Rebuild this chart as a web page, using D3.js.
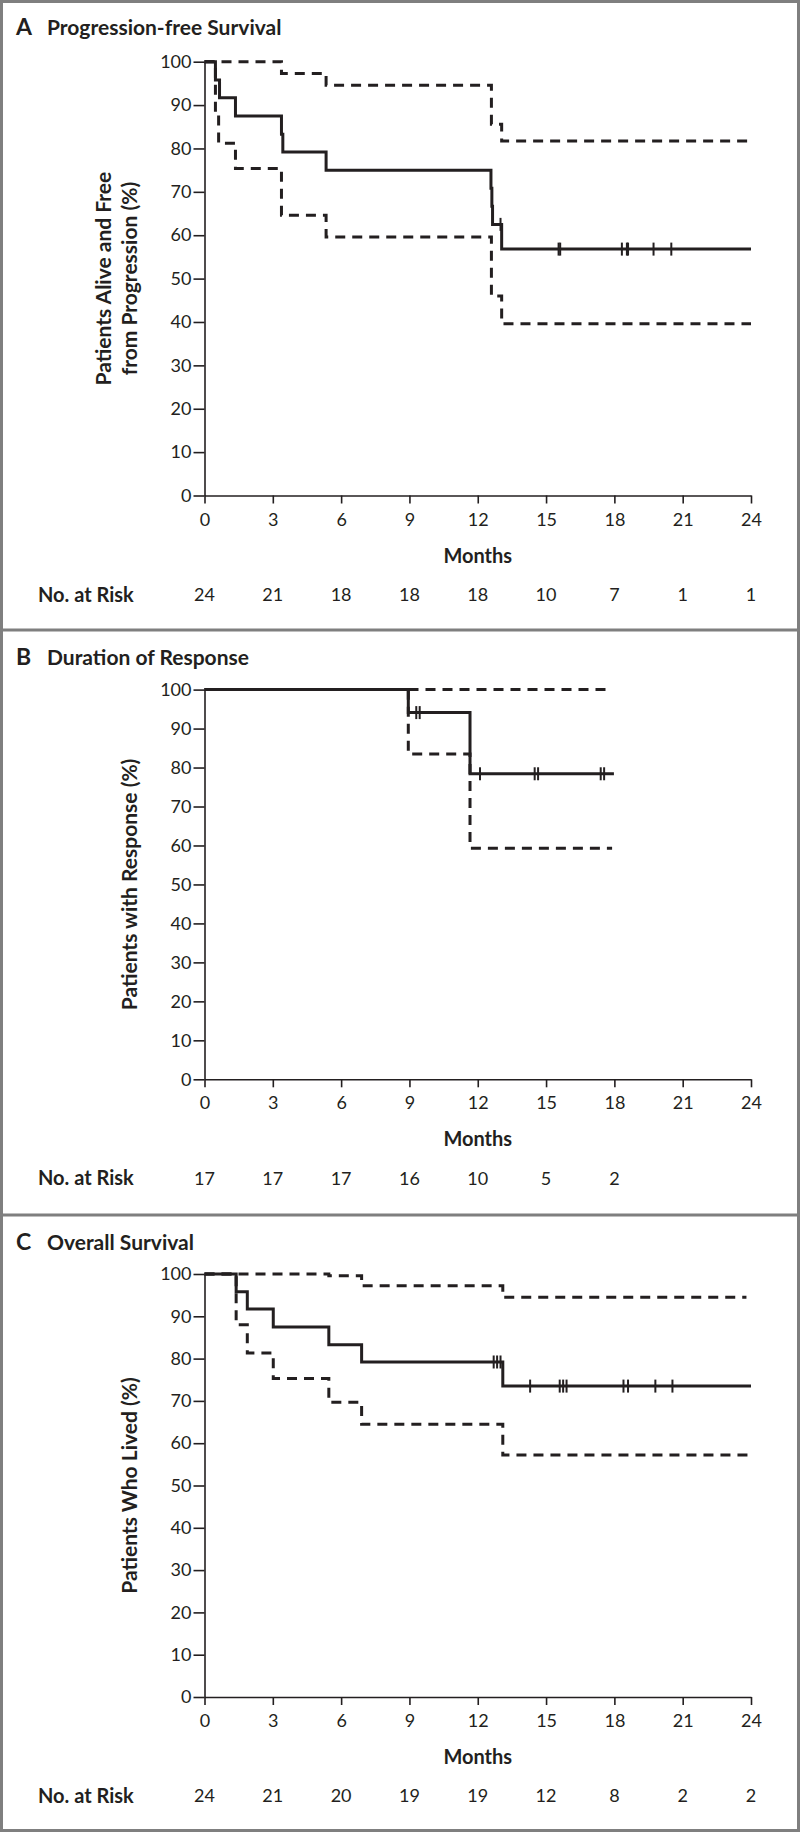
<!DOCTYPE html>
<html>
<head>
<meta charset="utf-8">
<script src="https://cdn.jsdelivr.net/npm/d3@7"></script>
<style>
    body { margin: 0; background: #fff; }
    svg text { font-family: Lato, 'Open Sans', sans-serif; fill: #231f20; }
</style>
</head>
<body>
<div id="chart"></div>
<script>
'use strict';

// ---- data ----
const months = [0, 3, 6, 9, 12, 15, 18, 21, 24];
const pctTicks = [0, 10, 20, 30, 40, 50, 60, 70, 80, 90, 100];

// A: progression-free survival
const pfsTime = [0, 0.48, 0.66, 1.36, 3.38, 3.44, 5.34, 12.58, 12.62, 12.65, 13.05, 24];
const pfsEst = [100, 95.8, 91.7, 87.5, 83.3, 79.2, 75.0, 70.8, 66.7, 62.5, 56.8, 56.8];
const pfsUpperTime = [0, 3.38, 5.34, 12.6, 13.05, 24];
const pfsUpper = [100, 97.3, 94.6, 85.6, 81.7, 81.7];
const pfsLowerTime = [0, 0.48, 0.62, 1.36, 3.38, 5.34, 12.6, 13.05, 24];
const pfsLower = [100, 88.0, 81.2, 75.4, 64.6, 59.6, 46.0, 39.6, 39.6];
const pfsCensor = [13.0, 15.55, 15.62, 18.33, 18.55, 18.6, 19.72, 20.5];
const pfsAtRisk = [24, 21, 18, 18, 18, 10, 7, 1, 1];

// B: duration of response
const dorTime = [0, 8.95, 11.66, 17.98];
const dorEst = [100, 94.1, 78.4, 78.4];
const dorUpperTime = [0, 17.9];
const dorUpper = [100, 100];
const dorLowerTime = [0, 8.95, 11.66, 17.9];
const dorLower = [100, 83.5, 59.3, 59.3];
const dorCensor = [9.3, 9.45, 12.1, 14.5, 14.65, 17.4, 17.55];
const dorAtRisk = [17, 17, 17, 16, 10, 5, 2];

// C: overall survival
const osTime = [0, 1.39, 1.88, 3.02, 5.46, 6.9, 13.1, 24];
const osEst = [100, 95.8, 91.7, 87.5, 83.3, 79.2, 73.5, 73.5];
const osUpperTime = [0, 5.46, 6.9, 13.1, 23.8];
const osUpper = [100, 99.6, 97.2, 94.5, 94.5];
const osLowerTime = [0, 1.39, 1.88, 3.02, 5.46, 6.9, 13.1, 24];
const osLower = [100, 88.0, 81.3, 75.3, 69.7, 64.5, 57.2, 57.2];
const osCensor = [12.7, 12.85, 13.0, 14.3, 15.6, 15.75, 15.9, 18.4, 18.6, 19.8, 20.55];
const osAtRisk = [24, 21, 20, 19, 19, 12, 8, 2, 2];

(function(doc) {

    const W = 800, H = 1832;
    const ink = '#231f20';
    const frame = '#7f7f7f';

    const svg = d3.select('#chart').append('svg')
        .attr('width', W)
        .attr('height', H);

    const x = d3.scaleLinear().domain([0, 24]).range([204.5, 751]);

    const zip = (ts, vs) => ts.map((t, i) => ({t: t, v: vs[i]}));

    // value of a step curve at time t (events at t count)
    const stepValue = (ts, vs, t) => {
        let v = vs[0];
        for (let i = 0; i < ts.length; i++) {
            if (ts[i] <= t) v = vs[i];
        }
        return v;
    };

    const panels = [
        {
            letter: 'A', title: 'Progression-free Survival', top: 0, bottom: 630,
            plotTop: 61.7, plotBottom: 495.5,
            ylabel: ['Patients Alive and Free', 'from Progression (%)'],
            est: [pfsTime, pfsEst], upper: [pfsUpperTime, pfsUpper], lower: [pfsLowerTime, pfsLower],
            censor: pfsCensor, atRisk: pfsAtRisk
        },
        {
            letter: 'B', title: 'Duration of Response', top: 630, bottom: 1215,
            plotTop: 689.6, plotBottom: 1079.3,
            ylabel: ['Patients with Response (%)'],
            est: [dorTime, dorEst], upper: [dorUpperTime, dorUpper], lower: [dorLowerTime, dorLower],
            censor: dorCensor, atRisk: dorAtRisk
        },
        {
            letter: 'C', title: 'Overall Survival', top: 1215, bottom: 1832,
            plotTop: 1274, plotBottom: 1697,
            ylabel: ['Patients Who Lived (%)'],
            est: [osTime, osEst], upper: [osUpperTime, osUpper], lower: [osLowerTime, osLower],
            censor: osCensor, atRisk: osAtRisk
        }
    ];

    const drawPanel = (p) => {
        const g = svg.append('g');
        const y = d3.scaleLinear().domain([0, 100]).range([p.plotBottom, p.plotTop]);

        // heading
        g.append('text')
            .attr('x', 16).attr('y', p.top + 35)
            .style('font-size', '23px').style('font-weight', 700)
            .text(p.letter);
        g.append('text')
            .attr('x', 47).attr('y', p.top + 35)
            .style('font-size', '21px').style('font-weight', 700)
            .text(p.title);

        // axes
        const yAxis = g.append('g')
            .attr('transform', `translate(${x(0)},0)`)
            .call(d3.axisLeft(y).tickValues(pctTicks).tickSize(11).tickPadding(2).tickSizeOuter(0));
        const xAxis = g.append('g')
            .attr('transform', `translate(0,${p.plotBottom})`)
            .call(d3.axisBottom(x).tickValues(months).tickSize(8).tickPadding(6).tickSizeOuter(0));
        for (const ax of [yAxis, xAxis]) {
            ax.selectAll('path, line').attr('stroke', ink).attr('stroke-width', 1.6);
            ax.selectAll('text')
                .style('font-family', 'Lato, sans-serif')
                .style('font-size', '18px')
                .attr('fill', ink);
        }
        xAxis.selectAll('text').attr('dy', '0.9em');

        // y label
        const midY = (p.plotTop + p.plotBottom) / 2;
        const lx = p.ylabel.length === 2 ? [104, 130] : [130];
        p.ylabel.forEach((line, i) => {
            g.append('text')
                .attr('transform', `translate(${lx[i]},${midY}) rotate(-90)`)
                .attr('text-anchor', 'middle')
                .attr('dy', '0.35em')
                .style('font-size', '21px').style('font-weight', 700)
                .text(line);
        });

        // x label and numbers at risk
        g.append('text')
            .attr('x', (x(0) + x(24)) / 2).attr('y', p.plotBottom + 60)
            .attr('text-anchor', 'middle').attr('dy', '0.35em')
            .style('font-size', '20px').style('font-weight', 700)
            .text('Months');
        g.append('text')
            .attr('x', 38).attr('y', p.plotBottom + 99)
            .attr('dy', '0.35em')
            .style('font-size', '20px').style('font-weight', 700)
            .text('No. at Risk');
        g.selectAll('.risk').data(p.atRisk).enter().append('text')
            .attr('x', (d, i) => x(months[i]))
            .attr('y', p.plotBottom + 99)
            .attr('text-anchor', 'middle').attr('dy', '0.35em')
            .style('font-size', '18px')
            .text(d => d);

        // curves
        const line = d3.line()
            .x(d => x(d.t))
            .y(d => y(d.v))
            .curve(d3.curveStepAfter);
        const curves = [
            {data: p.upper, dash: '10,7'},
            {data: p.lower, dash: '10,7'},
            {data: p.est, dash: null}
        ];
        for (const c of curves) {
            g.append('path')
                .datum(zip(c.data[0], c.data[1]))
                .attr('d', line)
                .attr('fill', 'none')
                .attr('stroke', ink)
                .attr('stroke-width', 3)
                .attr('stroke-dasharray', c.dash);
        }

        // censor marks
        g.selectAll('.censor').data(p.censor).enter().append('line')
            .attr('x1', d => x(d)).attr('x2', d => x(d))
            .attr('y1', d => y(stepValue(p.est[0], p.est[1], d)) - 6.5)
            .attr('y2', d => y(stepValue(p.est[0], p.est[1], d)) + 6.5)
            .attr('stroke', ink)
            .attr('stroke-width', 2);
    };

    panels.forEach(drawPanel);

    // frame and separators
    svg.append('rect')
        .attr('x', 1.5).attr('y', 1.5)
        .attr('width', W - 3).attr('height', H - 3)
        .attr('fill', 'none').attr('stroke', frame).attr('stroke-width', 3);
    for (const p of panels.slice(1)) {
        svg.append('line')
            .attr('x1', 0).attr('x2', W)
            .attr('y1', p.top).attr('y2', p.top)
            .attr('stroke', frame).attr('stroke-width', 3);
    }

}(document));
</script>
</body>
</html>
